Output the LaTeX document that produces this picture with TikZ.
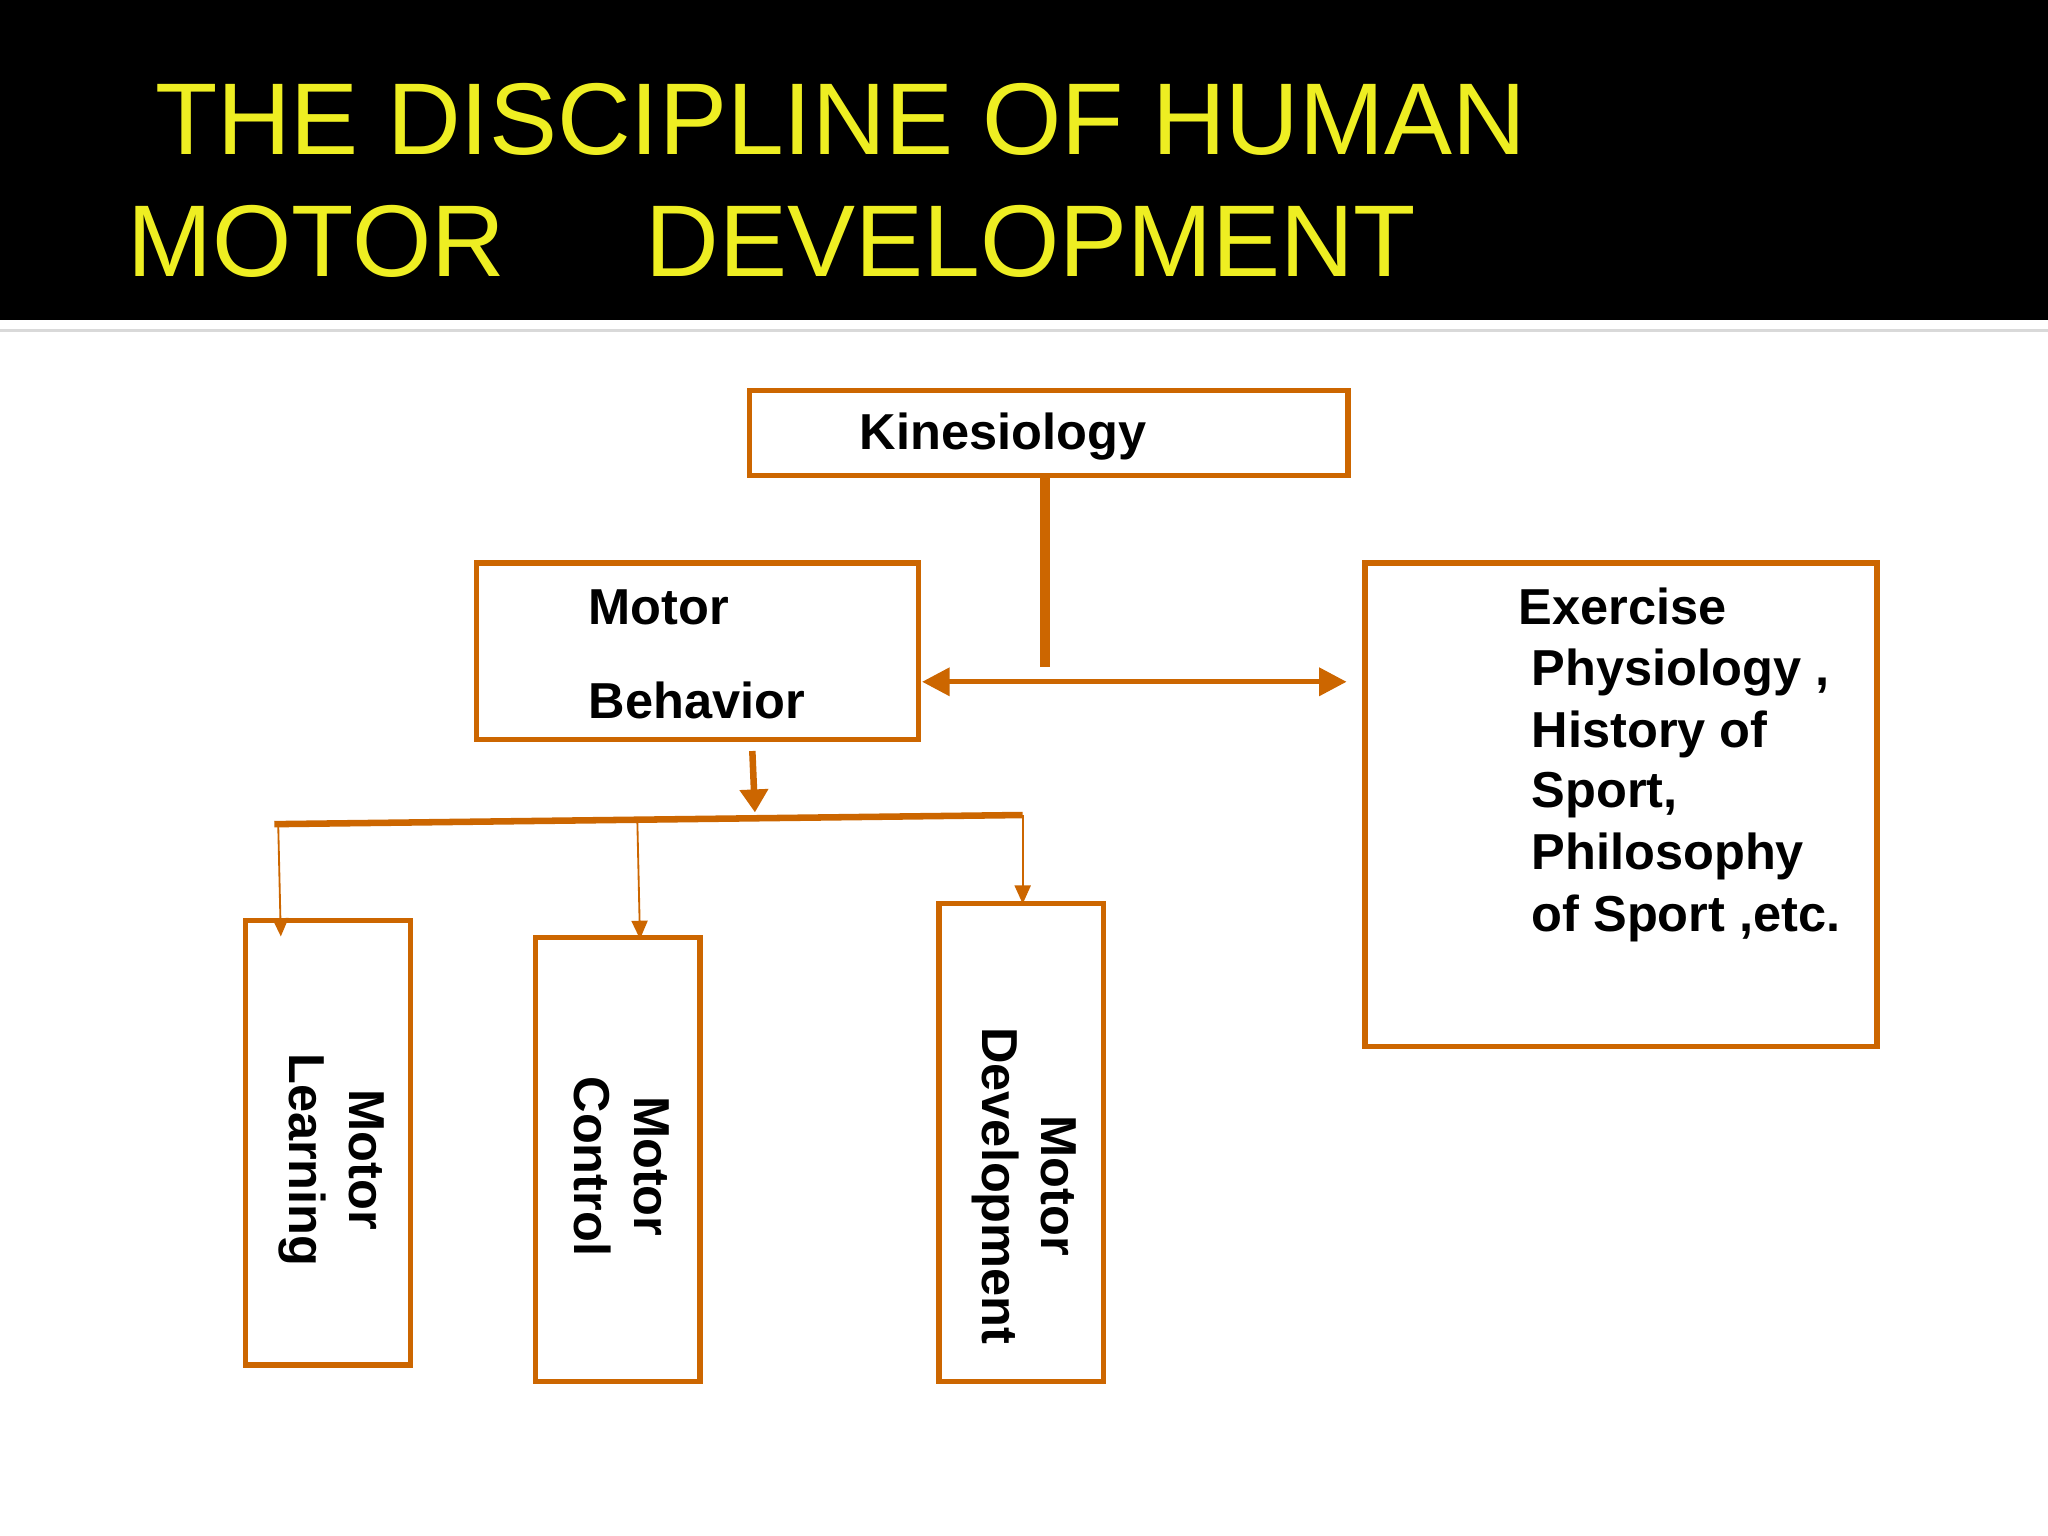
\documentclass[tikz,border=0pt]{standalone}
\usepackage{fontspec}
\setmainfont{Liberation Sans}
\usetikzlibrary{arrows.meta}
\definecolor{org}{HTML}{CC6600}
\definecolor{ttl}{HTML}{EEEE22}
\tikzset{
 box/.style={draw=org,line width=4pt*0.2845,inner sep=0pt},
 lbl/.style={font=\fontsize{11}{13}\selectfont\bfseries,anchor=base west,inner sep=0pt},
 vlbl/.style={font=\fontsize{11}{13}\selectfont\bfseries,rotate=-90,align=center,inner sep=0pt},
 ttlf/.style={font=\fontsize{22.2}{26}\selectfont,text=ttl,anchor=base west,inner sep=0pt},
 ln/.style={draw=org},
}
\begin{document}
\begin{tikzpicture}[x=0.01cm,y=-0.01cm]
\useasboundingbox (0,0) rectangle (1568,1176);
\fill[white] (0,0) rectangle (1568,1176);
\fill[black] (0,0) rectangle (1568,245);
\draw[gray!30,line width=0.6pt] (0,253) -- (1568,253);
\node[ttlf] (t1) at (118,118) {THE DISCIPLINE OF HUMAN};
\node[ttlf] (t2) at (97,212) {MOTOR\hspace{1.1em}\ DEVELOPMENT};
% boxes
\draw[box] (574,299) rectangle (1032,364);
\node[font=\fontsize{11}{13}\selectfont\bfseries] (kin) at (768,334) {Kinesiology};
\coordinate (kb) at (800,364);
\coordinate (kt) at (800,511);
\draw[box] (365,431) rectangle (703,566);
\node[lbl] (mb1) at (450,478) {Motor};
\node[lbl] (mb2) at (450,550) {Behavior};
\draw[box] (1045,431) rectangle (1437,801);
\node[lbl] (e1) at (1162,478) {Exercise};
\node[lbl] (e2) at (1172,525) {Physiology ,};
\node[lbl] (e3) at (1172,572) {History of};
\node[lbl] (e4) at (1172,618) {Sport,};
\node[lbl] (e5) at (1172,666) {Philosophy};
\node[lbl] (e6) at (1172,713) {of Sport ,etc.};
\draw[box] (188,705) rectangle (314,1045);
\draw[box] (410,718) rectangle (536,1058);
\draw[box] (719,692) rectangle (845,1058);
\node[vlbl] (ml) at (254,888) {Motor\\Learning};
\node[vlbl] (mc) at (476,893) {Motor\\Control};
\node[vlbl] (md) at (784,908) {Motor\\Development};
% connectors
\draw[ln,line width=8pt*0.2845] (kb) -- (kt);
\coordinate (al) at (706,522);
\coordinate (ar) at (1031,522);
\draw[ln,line width=4pt*0.2845,{Triangle[length=6pt,width=6pt]}-{Triangle[length=6pt,width=6pt]}] (al) -- (ar);
\coordinate (d1) at (576,575);
\coordinate (d2) at (578,622);
\draw[ln,line width=5pt*0.2845,-{Triangle[length=5pt,width=6pt]}] (d1) -- (d2);
\coordinate (b1) at (210,631);
\coordinate (b2) at (783,624);
\draw[ln,line width=5pt*0.2845] (b1) -- (b2);
\coordinate (s1) at (213,631);
\coordinate (s2) at (488,630);
\draw[ln,line width=0.4pt,-{Triangle[length=4pt,width=3.5pt]}] (s1) -- (215,717);
\draw[ln,line width=0.4pt,-{Triangle[length=4pt,width=3.5pt]}] (s2) -- (490,719);
\draw[ln,line width=0.4pt,-{Triangle[length=4pt,width=3.5pt]}] (b2) -- (783,692);
\end{tikzpicture}
\end{document}
